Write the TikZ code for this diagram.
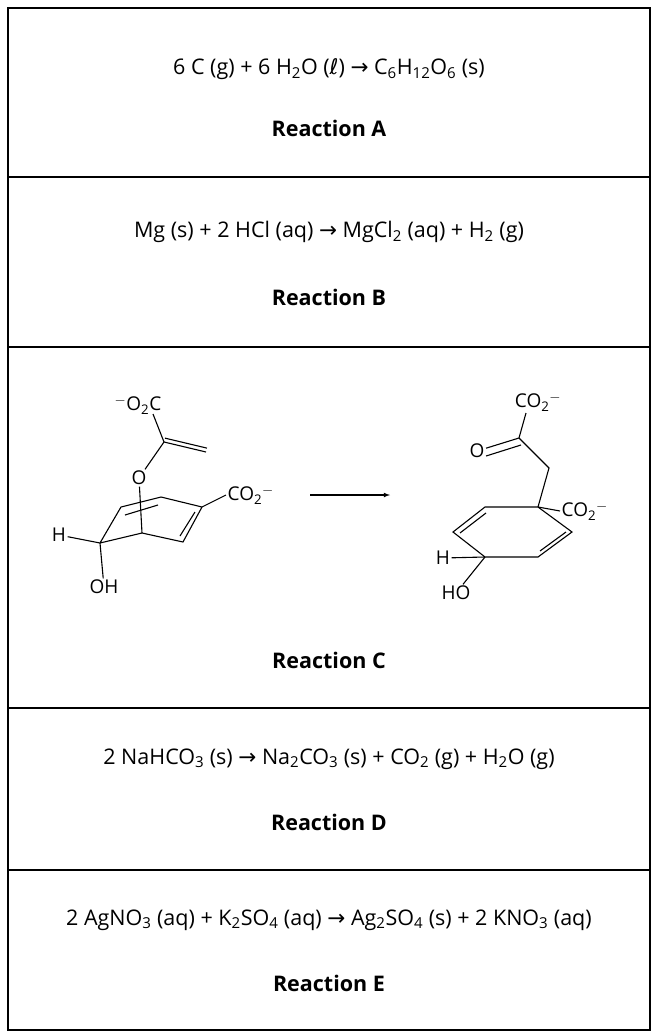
\documentclass[tikz,border=0pt]{standalone}
\usepackage{fontspec}
\usetikzlibrary{calc}
\setmainfont{Open Sans}
\newfontfamily\dv{DejaVu Sans}
\newcommand{\sub}[1]{\textsubscript{#1}}
\newcommand{\rar}{{\dv →}}
\begin{document}
\begin{tikzpicture}[x=1pt,y=-1pt,
  eq/.style={font=\fontsize{21.5}{25}\selectfont},
  lab/.style={font=\fontsize{21.5}{25}\selectfont\bfseries},
  atm/.style={font=\fontsize{19}{22}\selectfont, inner sep=1.5pt},
  bd/.style={line width=1.1pt},
  >=latex]
\useasboundingbox (0,0) rectangle (660,1036);
\draw[line width=1.1pt] (8,8) rectangle (650,1030);
\foreach \yy in {177,347,708,870} \draw[line width=1.1pt] (8,\yy) -- (650,\yy);
\node[eq] (eqA) at (329,69) {6 C (g) + 6 H\sub{2}O ({\dv ℓ}) \rar{} C\sub{6}H\sub{12}O\sub{6} (s)};
\node[lab] (lA) at (329,128) {Reaction A};
\node[eq] (eqB) at (329,232) {Mg (s) + 2 HCl (aq) \rar{} MgCl\sub{2} (aq) + H\sub{2} (g)};
\node[lab] (lB) at (329,297) {Reaction B};
\node[lab] (lC) at (329,660) {Reaction C};
\node[eq] (eqD) at (329,759) {2 NaHCO\sub{3} (s) \rar{} Na\sub{2}CO\sub{3} (s) + CO\sub{2} (g) + H\sub{2}O (g)};
\node[lab] (lD) at (329,822) {Reaction D};
\node[eq] (eqE) at (329,920) {2 AgNO\sub{3} (aq) + K\sub{2}SO\sub{4} (aq) \rar{} Ag\sub{2}SO\sub{4} (s) + 2 KNO\sub{3} (aq)};
\node[lab] (lE) at (329,983) {Reaction E};
% left molecule
\node[atm] (ca) at (138,405) {\textsuperscript{$-$}O\sub{2}C};
\coordinate (v) at (164,442);
\coordinate (v2) at (206,452);
\node[atm] (o1) at (139,478) {O};
\coordinate (A) at (100,543);
\coordinate (B) at (121,507);
\coordinate (C) at (161,497);
\coordinate (D) at (202,507);
\coordinate (E) at (183,542);
\coordinate (F) at (142,533);
\node[atm,anchor=west] (co1) at (226,495) {CO\sub{2}\textsuperscript{$-$}};
\node[atm] (h1) at (59,535) {H};
\node[atm] (oh1) at (104,587) {OH};
\draw[bd] (153,414) -- (v);
\draw[bd] (v) -- (v2);
\draw[bd] ($(v)!4pt!90:(v2)$) -- ($(v2)!4pt!-90:(v)$);
\draw[bd] (v) -- (o1);
\draw[bd] (o1) -- (F);
\draw[bd] (A) -- (B) -- (C) -- (D) -- (E) -- (F) -- (A);
\draw[bd] (125,515) -- (158,505);
\draw[bd] (195,512) -- (180,536);
\draw[bd] (D) -- (co1.west);
\draw[bd] (h1) -- (A);
\draw[bd] (A) -- (oh1);
% arrow
\coordinate (a1) at (310,495);
\coordinate (a2) at (390,495);
\draw[bd,->] (a1) -- (a2);
% right molecule
\node[atm] (co2) at (538,402) {CO\sub{2}\textsuperscript{$-$}};
\coordinate (k) at (519,438);
\node[atm] (o2) at (477,451) {O};
\coordinate (m) at (549,468);
\coordinate (Q) at (538,507);
\node[atm,anchor=west] (co3) at (560,511) {CO\sub{2}\textsuperscript{$-$}};
\coordinate (R1) at (485,507);
\coordinate (R2) at (453,532);
\coordinate (R3) at (485,557);
\coordinate (R4) at (538,557);
\coordinate (R5) at (572,532);
\node[atm] (h2) at (443,558) {H};
\node[atm] (ho2) at (456,593) {HO};
\draw[bd] (526,413) -- (k);
\draw[bd] (k) -- (o2);
\draw[bd] (521,445) -- ($(o2.east)+(0,5)$);
\draw[bd] (k) -- (m) -- (Q);
\draw[bd] (Q) -- (co3.west);
\draw[bd] (Q) -- (R1) -- (R2) -- (R3) -- (R4) -- (R5) -- (Q);
\draw[bd] (486,513) -- (460,533);
\draw[bd] (540,551) -- (566,532);
\draw[bd] (h2) -- (R3);
\draw[bd] (R3) -- (ho2);
\end{tikzpicture}
\end{document}
